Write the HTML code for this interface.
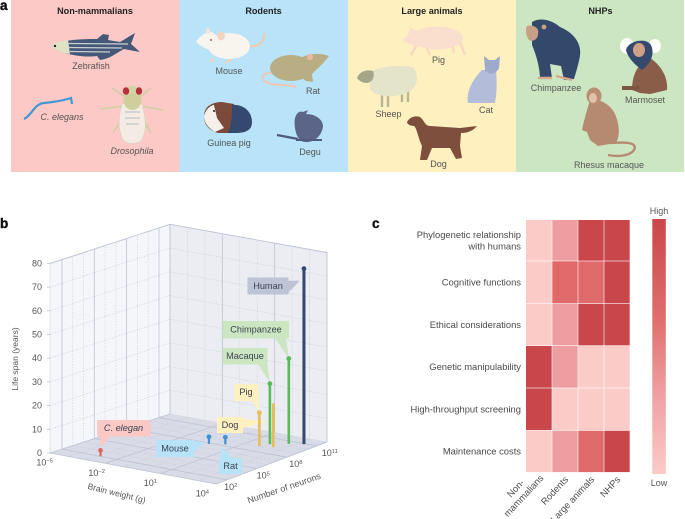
<!DOCTYPE html>
<html lang="en">
<head>
<meta charset="utf-8">
<title>Model organisms comparison</title>
<style>
html,body{margin:0;padding:0;background:#fff;width:685px;height:519px;overflow:hidden}
svg{display:block;font-family:"Liberation Sans",sans-serif}
.hd{font-size:9.1px;font-weight:bold;fill:#222;text-anchor:middle}
.an{font-size:9px;fill:#555;text-anchor:middle}
.it{font-style:italic}
.pl{font-size:13.5px;font-weight:bold;fill:#111;stroke:#111;stroke-width:.4}
.tk{font-size:9px;fill:#555}
.tt{font-size:8.5px;fill:#555}
.cl{font-size:9.2px;fill:#3b4250;text-anchor:middle}
.rl{font-size:9.4px;fill:#4a4a4a;text-anchor:end}
</style>
</head>
<body>
<svg id="fig" xmlns="http://www.w3.org/2000/svg" width="685" height="519" viewBox="0 0 685 519">
  <g>
    <text class="pl" x="0" y="10">a</text>
    <rect x="11" y="0" width="168.5" height="172" fill="#fcc9c6"/>
    <rect x="179.5" y="0" width="168.5" height="172" fill="#b8e3f9"/>
    <rect x="348" y="0" width="168" height="172" fill="#fff0bf"/>
    <rect x="516" y="0" width="168" height="172" fill="#cde6c2"/>
    <text class="hd" x="95" y="14">Non-mammalians</text>
    <text class="hd" x="263.5" y="14">Rodents</text>
    <text class="hd" x="432" y="14">Large animals</text>
    <text class="hd" x="600.5" y="14">NHPs</text>

    <g>
      <path d="M51,46 C60,40 80,39 97,39 L103,34 L109,35 L108,40 L120,42 L135,33 L131,44 L140,52 L124,49 C116,53 110,59 100,60 L97,56 C82,58 60,54 51,46Z" fill="#46587a"/>
      <path d="M51,46 C55,42 62,41 68,40 L70,54 C62,53 55,50 51,46Z" fill="#dfe3c6"/>
      <path d="M68,43.5 L128,44 M68,47.5 L122,48 M70,51.5 L110,52" stroke="#c9d0cf" stroke-width="1.3" fill="none"/>
      <circle cx="55" cy="46" r="1.2" fill="#223"/>
    </g>
    <text class="an" x="91" y="69">Zebrafish</text>
    <path d="M24,119 C32,115 34,104 44,103 C54,102 62,101 71,98 L72,104" fill="none" stroke="#3f97d3" stroke-width="2.2"/>
    <text class="an it" x="62" y="120">C. elegans</text>
    <g>
      <path d="M112,88 L125,97 M151,88 L140,97 M100,109 L125,106 M163,110 L140,106 M113,133 L124,116 M151,133 L141,116" stroke="#cfcfa4" stroke-width="1.6" fill="none"/>
      <path d="M122,104 C118,118 118,132 124,141 C128,144 136,144 141,141 C147,132 146,118 142,104Z" fill="#f4ece4" stroke="#d8d0c4" stroke-width=".6"/>
      <path d="M125,112 H140 M125,118 H140 M126,124 H139" stroke="#c9ccd0" stroke-width="1.6"/>
      <ellipse cx="132.5" cy="100" rx="9" ry="10" fill="#cfcf9e"/>
      <ellipse cx="132.5" cy="90" rx="6" ry="4.5" fill="#d3d3a6"/>
      <ellipse cx="126" cy="91" rx="3.2" ry="3.8" fill="#b8303a"/>
      <ellipse cx="139" cy="91" rx="3.2" ry="3.8" fill="#b8303a"/>
    </g>
    <text class="an it" x="132" y="154">Drosophila</text>

    <g>
      <path d="M248,47 C258,47 265,42 264,33" fill="none" stroke="#f2c9ae" stroke-width="2"/>
      <path d="M214,58 L211,62 M232,58 L226,63" stroke="#f3d3bd" stroke-width="2.4"/>
      <ellipse cx="229" cy="46" rx="21" ry="13" fill="#f8f4ee"/>
      <path d="M196,42 C200,36 205,32 211,32 C218,34 222,44 218,50 C210,52 202,47 196,42Z" fill="#f8f4ee"/>
      <ellipse cx="221" cy="36" rx="3.8" ry="4.5" fill="#f3d3bd"/>
      <ellipse cx="208" cy="31" rx="2.2" ry="3" fill="#f3e5d9"/>
      <circle cx="211" cy="40" r=".9" fill="#a33"/>
    </g>
    <text class="an" x="229" y="74">Mouse</text>
    <g>
      <path d="M276,74 C264,70 258,78 266,82 C276,87 284,83 296,87" fill="none" stroke="#eec7b4" stroke-width="2"/>
      <ellipse cx="291" cy="68" rx="21" ry="13" fill="#b9ad84"/>
      <path d="M300,58 C308,54 318,52 329,56 C324,63 318,68 312,74 L313,82 L306,81 L300,76Z" fill="#b9ad84"/>
      <ellipse cx="310" cy="57" rx="3" ry="3.3" fill="#e5b9a3"/>
    </g>
    <text class="an" x="313" y="94">Rat</text>
    <g>
      <path d="M204,116 C204,106 213,102 222,102 L234,104 L238,133 L218,133 C208,130 204,124 204,116Z" fill="#7b4a3a"/>
      <path d="M204,116 C206,108 212,105 214,105 L217,118 L224,128 L215,132 C208,128 204,122 204,116Z" fill="#f5f0ea"/>
      <path d="M232,105 C244,104 252,112 252,122 C252,130 246,133 236,133 L228,133 C232,124 232,114 232,105Z" fill="#35486e"/>
      <circle cx="214" cy="111" r="1" fill="#222"/>
    </g>
    <text class="an" x="229" y="146">Guinea pig</text>
    <g>
      <path d="M277,135 L298,139" stroke="#4f5a7e" stroke-width="2.4"/>
      <path d="M295,128 C293,116 298,110 303,112 L308,110 L306,114 C316,114 323,120 323,126 C322,136 314,143 305,142 C300,142 296,136 295,128Z" fill="#5b6588"/>
      <path d="M296,140 H322" stroke="#4f5a7e" stroke-width="2"/>
    </g>
    <text class="an" x="310" y="155">Degu</text>

    <g>
      <path d="M417,44 L411,55 M426,46 L430,55 M452,44 L454,53 M460,42 L465,55" stroke="#f7d8c6" stroke-width="2.6" fill="none"/>
      <ellipse cx="437" cy="38" rx="26" ry="11.5" fill="#fadfcf"/>
      <path d="M402,40 C408,36 410,32 410,27 L415,30 L424,32 L422,46 C414,46 406,44 402,40Z" fill="#fadfcf"/>
    </g>
    <text class="an" x="438.5" y="63">Pig</text>
    <g>
      <path d="M382,92 V107 M388,92 V107 M402,90 V102 M408,90 V102" stroke="#b7b795" stroke-width="2.4"/>
      <path d="M370,72 C380,66 405,64 414,68 C419,76 418,88 408,92 C398,98 378,98 370,90Z" fill="#e3e4c9"/>
      <path d="M357,78 C359,72 366,69 373,71 C375,76 373,82 367,83 C363,83 359,81 357,78Z" fill="#a5a58a"/>
    </g>
    <text class="an" x="388.5" y="117">Sheep</text>
    <g>
      <path d="M468,103 C466,92 472,80 482,70 L496,70 C497,82 497,92 495,103Z" fill="#b3bcd8"/>
      <path d="M484,56 L489,60 L495,60 L500,56 L499,68 C496,75 488,75 485,70Z" fill="#9fa9cb"/>
    </g>
    <text class="an" x="486" y="113">Cat</text>
    <g>
      <path d="M407,122 C409,118 414,115 420,117 C424,120 425,126 430,126 L460,128 L477,126 C472,132 466,133 461,133 L460,146 L462,158 L456,159 L450,148 L432,148 L427,160 L420,160 L422,146 C418,138 417,128 414,126 C410,126 407,124 407,122Z" fill="#7e4f3c"/>
    </g>
    <text class="an" x="438.5" y="167">Dog</text>
    <g>
      <path d="M532,22 C540,17 552,20 560,27 C572,32 582,42 580,56 C578,66 576,72 574,79 L564,80 L561,66 L550,64 L552,78 L540,79 C540,68 536,54 532,45Z" fill="#34486c"/>
      <path d="M527,26 C533,24 540,28 538,34 C538,40 532,42 529,40 C526,36 525,30 527,26Z" fill="#c8a086"/>
      <path d="M538,78 H552 M556,76 L572,80" stroke="#d8a988" stroke-width="2.4" fill="none"/>
      <circle cx="544" cy="27" r="2.4" fill="#c8a086"/>
    </g>
    <text class="an" x="556" y="91">Chimpanzee</text>
    <g>
      <ellipse cx="627" cy="46" rx="7" ry="8" fill="#fdfdfa"/>
      <ellipse cx="655" cy="46" rx="6" ry="7" fill="#fdfdfa"/>
      <path d="M632,90 C632,72 640,62 650,58 C662,66 668,78 667,90 L650,94 L640,93Z" fill="#8a5d48"/>
      <path d="M622,88 H640" stroke="#7b5643" stroke-width="4"/>
      <path d="M626,50 C628,40 650,36 652,48 C654,56 650,64 642,70 C634,64 628,58 626,50Z" fill="#35486e"/>
      <ellipse cx="639" cy="50" rx="6" ry="7" fill="#cf9f86"/>
    </g>
    <text class="an" x="645" y="103">Marmoset</text>
    <g>
      <path d="M611,143 C625,142 638,142 634,150 C630,156 618,157 608,155" fill="none" stroke="#b58a70" stroke-width="2.4"/>
      <path d="M590,100 C596,98 608,102 614,112 C620,124 620,136 616,143 L598,146 L590,140 L587,132 L582,130 C584,120 587,110 590,100Z" fill="#b58a70"/>
      <ellipse cx="594" cy="96" rx="7.5" ry="8.5" fill="#ba8e72"/>
      <ellipse cx="593" cy="98" rx="4" ry="5" fill="#e3c0aa"/>
    </g>
    <text class="an" x="609" y="168">Rhesus macaque</text>
  </g>

  <g>
    <text class="pl" x="0" y="228">b</text>
    <g id="grid3d"></g>
    <g id="axisLabels"></g>
    <g id="tails"></g>
    <g id="marks"></g>
    <text class="tt" transform="translate(18,359) rotate(-90)" text-anchor="middle">Life span (years)</text>
    <text class="tt" transform="translate(116,496) rotate(14)" text-anchor="middle">Brain weight (g)</text>
    <text class="tk" transform="translate(285,491) rotate(-19)" text-anchor="middle">Number of neurons</text>

    <g>
      <rect x="97" y="420" width="53.5" height="16.5" fill="#fac8c5"/>
      <text class="cl it" x="123.5" y="431">C. elegan</text>
    </g>
    <g>
      <rect x="156" y="440" width="38" height="17" fill="#b7e2f7"/>
      <text class="cl" x="175" y="451.5">Mouse</text>
    </g>
    <g>
      <rect x="219" y="458" width="23" height="16" fill="#b7e2f7"/>
      <text class="cl" x="230.5" y="469">Rat</text>
    </g>
    <g>
      <rect x="217" y="417" width="26" height="16" fill="#fff0bf"/>
      <text class="cl" x="230" y="428">Dog</text>
    </g>
    <g>
      <rect x="234" y="384" width="24.5" height="17" fill="#fff0bf"/>
      <text class="cl" x="246" y="395">Pig</text>
    </g>
    <g>
      <rect x="223" y="348" width="44.5" height="16.5" fill="#cde6c2"/>
      <text class="cl" x="245" y="359">Macaque</text>
    </g>
    <g>
      <rect x="222.5" y="321" width="66.5" height="17.5" fill="#cde6c2"/>
      <text class="cl" x="256" y="332.5">Chimpanzee</text>
    </g>
    <g>
      <rect x="247.5" y="277.5" width="41" height="17" fill="#bcc4d6"/>
      <text class="cl" x="268" y="289">Human</text>
    </g>
  </g>

  <defs>
    <linearGradient id="cb" x1="0" y1="0" x2="0" y2="1">
      <stop offset="0" stop-color="#c9474b"/>
      <stop offset=".4" stop-color="#e06f6e"/>
      <stop offset=".7" stop-color="#f0a2a3"/>
      <stop offset="1" stop-color="#fbcbc7"/>
    </linearGradient>
  </defs>
  <g>
    <text class="pl" x="372" y="228">c</text>
    <g id="heat"></g>
    <g id="heatLabels"></g>
    <rect x="652.3" y="219" width="13.5" height="255" fill="url(#cb)"/>
    <text class="tk" x="659" y="214" text-anchor="middle">High</text>
    <text class="tk" x="659" y="486" text-anchor="middle">Low</text>
  </g>
</svg>

<script>
const lifespanTicks = [0,10,20,30,40,50,60,70,80];
const brainTicks = [-5,-2,1,4];
const neuronTicks = [2,5,8,11];
const species = ['c-elegan','mouse','rat','pig','dog','macaque','chimpanzee','human'];
const brainLog = [-2.9,-0.29,0.37,1.81,2.47,2.02,2.72,3.32];
const neuronLog = [2.0,7.85,8.3,9.13,9.35,9.8,10.45,10.91];
const lifespan = [2.5,3,3,14,18.5,25.5,36,74];
const markColors = ['#e06464','#3f93d0','#3f93d0','#e9bd55','#e9bd55','#58bb55','#58bb55','#35486e'];
const tailColors = ['#fac8c5','#b7e2f7','#b7e2f7','#fff0bf','#fff0bf','#cde6c2','#cde6c2','#bcc4d6'];

const heatRows = ['Phylogenetic relationship|with humans','Cognitive functions','Ethical considerations','Genetic manipulability','High-throughput screening','Maintenance costs'];
const heatCols = ['Non-|mammalians','Rodents','Large animals','NHPs'];
const heatRow1 = [1,2,4,4];
const heatRow2 = [1,3,3,4];
const heatRow3 = [1,2,4,4];
const heatRow4 = [4,2,1,1];
const heatRow5 = [4,1,1,1];
const heatRow6 = [1,2,3,4];
const heatValues = [heatRow1,heatRow2,heatRow3,heatRow4,heatRow5,heatRow6];

const NS = 'http://www.w3.org/2000/svg';
function mk(tag, parent, attrs){
  const e = document.createElementNS(NS, tag);
  for (const k in attrs) e.setAttribute(k, attrs[k]);
  parent.appendChild(e);
  return e;
}
/* floor projection */
const A=[50,453], B=[216,484], C=[327,442], D=[170,414];
function floorPt(u,v){
  return [
    (1-u)*(1-v)*A[0]+u*(1-v)*B[0]+u*v*C[0]+(1-u)*v*D[0],
    (1-u)*(1-v)*A[1]+u*(1-v)*B[1]+u*v*C[1]+(1-u)*v*D[1]
  ];
}
function uScale(b){ return (b+5)/9; }
function vScale(n){ return 0.1+(n-2)/9*0.808; }
const hScale = 2.37;

const grid = document.getElementById('grid3d');
const leftWall = mk('polygon', grid, {points:'50,264 170,224 170,414 50,453', fill:'#f5f6fa', stroke:'#d4d8e4','stroke-width':.6});


const rightWall = mk('polygon', grid, {points:'170,224 327,253 327,442 170,414', fill:'#ebedf3', stroke:'#ced3e0','stroke-width':.6});


const floorPoly = mk('polygon', grid, {points:A+' '+B+' '+C+' '+D, fill:'#d9dce6'});



function segment(p,q,major,name){
  const l = mk('line', grid, {x1:p[0],y1:p[1],x2:q[0],y2:q[1],stroke: major?'#bcc3d4':'#c5cad8','stroke-width':major?.8:.7,'stroke-dasharray':major?'none':'1 1.6'});
  
  
}
/* horizontal lifespan gridlines on walls */
for (const t of lifespanTicks){
  if (t===0) continue;
  const dy=t*hScale;
  const major=(t===80);
  segment([A[0],A[1]-dy],[D[0],D[1]-dy],major,'left-wall-gridline');
  segment([D[0],D[1]-dy],[C[0],C[1]-dy],major,'right-wall-gridline');
}
/* per-log-unit floor and wall lines */
for (let b=-5;b<=4;b++){
  const u=uScale(b), major=brainTicks.includes(b);
  const back=floorPt(u,1);
  segment(floorPt(u,0),back,major,'floor-brain-gridline');
  segment(back,[back[0],back[1]-80*hScale],major,'right-wall-vertical-gridline');
}
for (let n=2;n<=11;n++){
  const v=vScale(n), major=neuronTicks.includes(n);
  const side=floorPt(0,v);
  segment(side,floorPt(1,v),major,'floor-neuron-gridline');
  segment(side,[side[0],side[1]-80*hScale],major,'left-wall-vertical-gridline');
}
for (const e of [[A,B],[B,C]]){ segment(e[0],e[1],true,'floor-edge'); }

/* axis labels */
const axG = document.getElementById('axisLabels');
for (const t of lifespanTicks){
  const y=A[1]-t*hScale;
  const tick=mk('line', axG, {x1:47,y1:y,x2:50,y2:y,stroke:'#b6bdd0','stroke-width':.7});
  
  
  const lab=mk('text', axG, {class:'tk',x:42,y:y+3,'text-anchor':'end'});
  
  
  lab.textContent=t;
}
function powerLabel(x,y,anchor,exp,name){
  const lab=mk('text', axG, {class:'tk',x:x,y:y,'text-anchor':anchor});
  
  
  lab.appendChild(document.createTextNode('10'));
  const s=mk('tspan', lab, {'font-size':'5.8px',dy:-3});
  s.textContent=String(exp).replace('-','\u2212');
}
for (const b of brainTicks){
  const u=uScale(b), p=floorPt(u,0);
  powerLabel(p[0]+3-10*u,p[1]+12.5,'end',b,'brain-weight-tick-label');
}
for (const n of neuronTicks){
  const v=vScale(n), p=floorPt(1,v);
  powerLabel(p[0]-3+8*(v-0.1)/0.808,p[1]+10,'start',n,'neurons-tick-label');
}

/* marks */
const mG=document.getElementById('marks');
const tG=document.getElementById('tails');
function markTop(i){
  const p=floorPt(uScale(brainLog[i]),vScale(neuronLog[i]));
  return [p[0],p[1]-lifespan[i]*hScale,p[1]];
}
function tail(i,a,b,dx,dy){
  const m=markTop(i);
  const t=mk('polygon', tG, {points:a+' '+(m[0]+dx)+','+(m[1]+dy)+' '+b, fill:tailColors[i]});
  
  
}
tail(0,'100,436','110.7,436',0,-3);
tail(1,'190,440','193,453',-4,6);
tail(2,'220,458','232,458',-3.5,9);
tail(3,'251.7,400','258.3,400',0,-1);
tail(4,'243,419','243,428',-6,18);
tail(5,'257.7,364','267.3,364',0,-1);
tail(6,'275,338','286,338',0,0);
tail(7,'288,280.7','288,293',-4,12);
species.forEach((s,i)=>{
  const m=markTop(i);
  const w=(i===7)?3:(i>=3?2.6:2.2);
  const bar=mk('line', mG, {x1:m[0],y1:m[2],x2:m[0],y2:m[1],stroke:markColors[i],'stroke-width':w});
  
  
  if (s!=='dog'){
    const dot=mk('circle', mG, {cx:m[0],cy:m[1],r:2.4,fill:markColors[i]});
    
    
  }
});

/* heatmap */
const heatX=[526,552.3,578.3,604.3,630.3];
const heatY=[220,261.3,304,346,388.3,430.7,472.7];
const heatColor={1:'#fbcbc7',2:'#ee9da0',3:'#e06a6a',4:'#c9464a'};
const hG=document.getElementById('heat');
const hL=document.getElementById('heatLabels');
heatValues.forEach((row,r)=>{
  row.forEach((val,c)=>{
    const cell=mk('rect', hG, {x:heatX[c],y:heatY[r],width:heatX[c+1]-heatX[c]-.6,height:heatY[r+1]-heatY[r]-.6,fill:heatColor[val]});
    
    
  });
  const parts=heatRows[r].split('|');
  const cy=(heatY[r]+heatY[r+1])/2;
  parts.forEach((txt,k)=>{
    const lab=mk('text', hL, {class:'rl',x:521,y:cy+3-(parts.length-1)*5.5+k*11.5});
    
    
    lab.textContent=txt;
  });
});
heatCols.forEach((name,c)=>{
  const parts=name.split('|');
  parts.forEach((txt,k)=>{
    let x,y,anchor;
    if (parts.length>1){
      const off=(parts.length-1-k)*11;
      x=heatX[c]-0.73*off;
      y=498-0.68*off;
      anchor='middle';
    } else {
      x=heatX[c]+16.5;
      y=480;
      anchor='end';
    }
    const lab=mk('text', hL, {class:'rl',style:'text-anchor:'+anchor,transform:'translate('+x+','+y+') rotate(-47)'});
    
    
    lab.textContent=txt;
  });
});
</script>
</body>
</html>
